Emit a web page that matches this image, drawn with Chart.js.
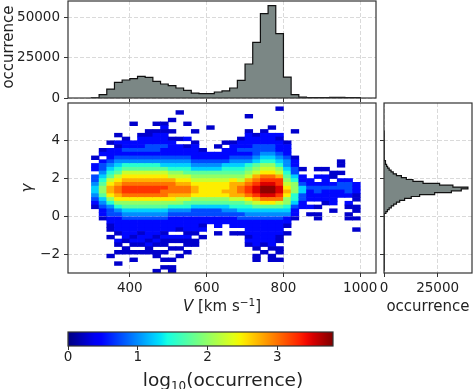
<!DOCTYPE html>
<html>
<head>
<meta charset="utf-8">
<script src="https://cdn.jsdelivr.net/npm/chart.js@4.4.0/dist/chart.umd.min.js"></script>
<style>
  body { margin: 0; background: #fff; }
  #fig { position: relative; width: 474px; height: 389px; overflow: hidden; font-family: "DejaVu Sans", sans-serif; color: #222; }
  #fig canvas { position: absolute; left: 0; top: 0; }
  .lbl { position: absolute; transform: translate(-50%, -50%); white-space: nowrap; line-height: 1; font-size: 15px; }
  .rot { transform: translate(-50%, -50%) rotate(-90deg); }
  .sup { font-size: 10.5px; position: relative; top: -0.5em; }
  .sub { font-size: 12px; position: relative; top: 0.35em; }
</style>
</head>
<body>
<div id="fig">
  <canvas id="topHist" width="474" height="389"></canvas>
  <canvas id="heat" width="474" height="389"></canvas>
  <canvas id="sideHist" width="474" height="389"></canvas>
  <canvas id="cbar" width="474" height="389"></canvas>
  <div class="lbl rot" style="left:8px;top:47px">occurrence</div>
  <div class="lbl rot" style="left:27px;top:188px;font-style:italic">γ</div>
  <div class="lbl" style="left:222px;top:306px"><i>V</i> [km s<span class="sup">−1</span>]</div>
  <div class="lbl" style="left:428px;top:306px">occurrence</div>
  <div class="lbl" style="left:223px;top:380px;font-size:18.5px">log<span class="sub">10</span>(occurrence)</div>
</div>
<script>
// V bins (km/s), shared by the 2D histogram and the top histogram
const vEdges = [300, 320, 340, 360, 380, 400, 420, 440, 460, 480, 500, 520, 540, 560, 580, 600, 620, 640,
  660, 680, 700, 720, 740, 760, 780, 800, 820, 840, 860, 880, 900, 920, 940, 960, 980, 1000];
const vTopCounts = [150, 2100, 5600, 9800, 11250, 12100, 13500, 12900, 10400, 8750, 7700, 6250, 4800, 3100,
  2700, 2700, 3750, 4400, 6250, 11000, 21250, 34800, 52700, 57700, 40200, 13100, 2100, 600, 300, 250, 300,
  350, 400, 300, 200];

// gamma bin edges of the 2D histogram, top to bottom
const gammaEdges = [5.8, 5.6, 5.4, 5.2, 5.0, 4.8, 4.6, 4.4, 4.2, 4.0, 3.8, 3.6, 3.4, 3.2, 3.0, 2.8, 2.6, 2.4,
  2.2, 2.0, 1.8, 1.6, 1.4, 1.2, 1.0, 0.8, 0.6, 0.4, 0.2, 0.0, -0.2, -0.4, -0.6, -0.8, -1.0, -1.2, -1.4, -1.6,
  -1.8, -2.0, -2.2, -2.4, -2.6, -2.8, -3.0];

// one string per V bin, one char per gamma bin (top to bottom):
// '.' = empty, hex digit d = log10(occurrence) of d * logStep
const logStep = 0.25;
const occLevels = [
  "....|....|....|.1.2|2.33|4554|321.|....|....|....|....",
  "....|....|...1|2.23|3456|7887|5432|21..|....|....|....",
  "....|....|.1.2|2234|5679|abba|8643|3221|1.1.|...1|....",
  "....|...1|.212|2345|679a|bccb|a864|3222|21.2|1.1.|.1..",
  "....|....|1223|2346|79ab|cddc|a875|4322|2221|.11.|....",
  "....|1...|.223|2346|79ab|cddc|a875|4322|2212|1.1.|1...",
  "....|...1|2223|2346|79ab|cddc|a875|4322|2122|1.1.|....",
  "....|..11|2233|2346|79ab|cddc|a875|4322|2221|211.|....",
  "....|1.12|2233|2346|79ab|cddc|a875|4322|2212|1.11|...1",
  "....|1212|2232|2345|79ab|cdcc|a875|4322|2121|1.1.|1.1.",
  "...1|..1.|1222|2345|689b|cccb|a864|3222|2.21|.1..|1.11",
  ".1..|....|1.22|2345|689a|bccb|9864|3222|1.21|.1.1|....",
  "....|1...|2.12|2345|679a|bccb|9764|3222|2121|1.1.|....",
  "....|..1.|.122|2234|5789|abba|8753|3222|21.1|1...|....",
  "....|....|...1|2234|5789|aaaa|8753|3221|2.1.|....|....",
  "....|.1..|....|2234|5789|aaaa|8753|322.|....|....|....",
  "....|....|..1.|2234|5789|aaaa|8753|3222|.1..|....|....",
  "....|....|.1.2|2235|6789|aaba|8754|322.|....|....|....",
  "....|....|.122|2345|678a|bbbb|9764|3222|.1..|....|....",
  "....|....|1223|2345|6789|bccb|9765|3322|.1..|....|....",
  "..1.|..12|2223|2346|789b|cddc|a865|4322|2212|1...|....",
  "....|...1|2233|3457|89bc|deed|b975|4322|2222|21.1|1...",
  "....|..12|2233|4568|9acd|effe|ca75|4322|2222|1.1.|....",
  "....|.1.2|2233|4568|9acd|effe|ca75|4322|2222|21.1|1...",
  "1...|...2|1222|3456|89bd|deed|c975|4322|2211|.11.|1...",
  "....|....|.122|2344|5678|9aba|8865|4221|.1..|....|....",
  "....|..1.|....|.122|3356|8886|6532|21..|....|....|....",
  "....|....|....|....|1.22|3553|322.|....|....|....|....",
  "....|....|....|....|...2|2322|2.2.|1...|....|....|....",
  "....|....|....|....|1.2.|2332|2.1.|11..|....|....|....",
  "....|....|....|....|1.22|2322|21..|....|....|....|....",
  "....|....|....|....|.11.|2322|22.1|....|....|....|....",
  "....|....|....|..11|.1.2|3322|....|....|....|....|....",
  "....|....|....|....|...2|3332|.21.|11..|....|....|....",
  "....|....|....|....|....|2221|1.11|.1..|1...|....|...."
];

// side histogram of gamma (bin centres, 0.1 wide)
const sideGamma = [-2.8, -2.7, -2.6, -2.5, -2.4, -2.3, -2.2, -2.1, -2.0, -1.9, -1.8, -1.7, -1.6, -1.5, -1.4,
  -1.3, -1.2, -1.1, -1.0, -0.9, -0.8, -0.7, -0.6, -0.5, -0.4, -0.3, -0.2, -0.1, 0.0, 0.1, 0.2, 0.3, 0.4, 0.5,
  0.6, 0.7, 0.8, 0.9, 1.0, 1.1, 1.2, 1.3, 1.4, 1.5, 1.6, 1.7, 1.8, 1.9, 2.0, 2.1, 2.2, 2.3, 2.4, 2.5, 2.6,
  2.7, 2.8, 2.9, 3.0, 3.1, 3.2, 3.3, 3.4, 3.5, 3.6, 3.7, 3.8, 3.9, 4.0, 4.1, 4.2, 4.3, 4.4, 4.5];
const sideCounts = [2, 3, 4, 5, 6, 8, 10, 12, 15, 18, 20, 25, 30, 35, 40, 45, 50, 55, 60, 70, 80, 90, 100,
  120, 140, 160, 190, 230, 300, 450, 900, 1600, 2400, 3400, 4500, 5800, 7300, 9600, 12700, 16600, 23600,
  31400, 36000, 39100, 32100, 25900, 18200, 13500, 10400, 8100, 5800, 4300, 3300, 2400, 1700, 1200, 850,
  600, 420, 300, 220, 160, 120, 90, 70, 50, 40, 30, 20, 15, 10, 8, 5, 4];
const sideHalfBin = 0.05;

const vTicks = [400, 600, 800, 1000], vTickLabels = ['400', '600', '800', '1000'];
const gammaTicks = [-2, 0, 2, 4], gammaTickLabels = ['\u22122', '0', '2', '4'];
const topTicks = [0, 25000, 50000], topTickLabels = ['0', '25000', '50000'];
const sideTicks = [0, 25000], sideTickLabels = ['0', '25000'];
const cbTicks = [0, 1, 2, 3], cbTickLabels = ['0', '1', '2', '3'];
const cbRange = [0, 3.8];

const W = 474, H = 389;
const gridColor = '#d0d0d0';
const histFill = '#7b8785';

function jet(t) {
  t = Math.min(1, Math.max(0, t));
  const seg = pts => {
    for (let i = 1; i < pts.length; i++) {
      if (t <= pts[i][0]) {
        const [x0, y0] = pts[i - 1], [x1, y1] = pts[i];
        return y0 + (y1 - y0) * (t - x0) / (x1 - x0);
      }
    }
    return pts[pts.length - 1][1];
  };
  const r = seg([[0, 0], [0.35, 0], [0.66, 1], [0.89, 1], [1, 0.5]]);
  const g = seg([[0, 0], [0.125, 0], [0.375, 1], [0.64, 1], [0.91, 0], [1, 0]]);
  const b = seg([[0, 0.5], [0.11, 1], [0.34, 1], [0.65, 0], [1, 0]]);
  return `rgb(${Math.round(r * 255)},${Math.round(g * 255)},${Math.round(b * 255)})`;
}

// 2D histogram cells
const cells = [], cellColors = [];
occLevels.forEach((col, j) => {
  const levels = col.replace(/\|/g, '');
  const vMid = (vEdges[j] + vEdges[j + 1]) / 2;
  for (let r = 0; r < levels.length; r++) {
    if (levels[r] === '.') continue;
    const logOcc = parseInt(levels[r], 16) * logStep;
    cells.push({ x: vMid, y: [gammaEdges[r + 1], gammaEdges[r]] });
    cellColors.push(jet((logOcc - cbRange[0]) / (cbRange[1] - cbRange[0])));
  }
});

// step outlines for the marginal histograms
const topLine = [{ x: vEdges[0], y: 0 }];
vTopCounts.forEach((c, i) => topLine.push({ x: vEdges[i], y: c }, { x: vEdges[i + 1], y: c }));
topLine.push({ x: vEdges[vEdges.length - 1], y: 0 });

const sideLine = [{ x: 0, y: sideGamma[0] - sideHalfBin }];
sideGamma.forEach((g, i) => sideLine.push({ x: sideCounts[i], y: g - sideHalfBin }, { x: sideCounts[i], y: g + sideHalfBin }));
sideLine.push({ x: 0, y: sideGamma[sideGamma.length - 1] + sideHalfBin });

Chart.defaults.font.family = "'DejaVu Sans', sans-serif";
Chart.defaults.font.size = 13.5;
Chart.defaults.color = '#222';
Chart.defaults.animation = false;
Chart.defaults.events = [];
Chart.defaults.plugins.legend.display = false;
Chart.defaults.plugins.tooltip.enabled = false;

const frame = {
  id: 'frame',
  afterDraw(chart) {
    const { ctx, chartArea: a } = chart;
    ctx.save();
    ctx.strokeStyle = '#333';
    ctx.lineWidth = 1.2;
    ctx.strokeRect(a.left, a.top, a.right - a.left, a.bottom - a.top);
    ctx.restore();
  }
};

function layoutFor(area, yW, xH) {
  return { autoPadding: false, padding: { left: area.left - yW, top: area.top, right: W - area.right, bottom: H - area.bottom - xH } };
}

function axis(o) {
  return {
    type: 'linear', min: o.min, max: o.max, bounds: 'data', offset: false, display: true,
    afterBuildTicks: s => { s.ticks = o.ticks.map(v => ({ value: v })); },
    afterFit: s => {
      if (o.isX) s.height = o.size; else s.width = o.size;
      s.paddingLeft = s.paddingRight = s.paddingTop = s.paddingBottom = 0;
    },
    ticks: {
      display: !!o.labels, padding: o.pad === undefined ? 4 : o.pad, maxRotation: 0, autoSkip: false,
      callback: (v, i) => (o.labels ? o.labels[i] : '')
    },
    grid: {
      offset: false, drawOnChartArea: o.grid !== false, color: gridColor, lineWidth: 0.8,
      drawTicks: true, tickLength: 4, tickColor: '#333', tickWidth: 1, tickBorderDash: []
    },
    border: { display: false, dash: [4, 2] }
  };
}

const vMin = 239, vMax = 1041, gMin = -3, gMax = 6;

// top histogram
const topArea = { left: 68, top: 1, right: 376, bottom: 98 };
new Chart(document.getElementById('topHist'), {
  type: 'scatter',
  data: { datasets: [{ data: topLine, showLine: true, pointRadius: 0, borderColor: '#111', borderWidth: 1.2, backgroundColor: histFill, fill: 'origin' }] },
  options: {
    responsive: false,
    layout: layoutFor(topArea, 60, 10),
    scales: {
      x: axis({ min: vMin, max: vMax, ticks: vTicks, isX: true, size: 10 }),
      y: axis({ min: 0, max: 60600, ticks: topTicks, labels: topTickLabels, size: 60 })
    }
  },
  plugins: [frame]
});

// 2D histogram
const heatArea = { left: 68, top: 103, right: 376, bottom: 273 };
new Chart(document.getElementById('heat'), {
  type: 'bar',
  data: { datasets: [{ data: cells, backgroundColor: cellColors, borderWidth: 0, barPercentage: 1, categoryPercentage: 1, grouped: false }] },
  options: {
    responsive: false,
    layout: layoutFor(heatArea, 60, 30),
    scales: {
      x: axis({ min: vMin, max: vMax, ticks: vTicks, labels: vTickLabels, isX: true, size: 30, pad: 3 }),
      y: axis({ min: gMin, max: gMax, ticks: gammaTicks, labels: gammaTickLabels, size: 60 })
    }
  },
  plugins: [frame]
});

// side histogram
const sideArea = { left: 384, top: 103, right: 472, bottom: 273 };
new Chart(document.getElementById('sideHist'), {
  type: 'scatter',
  data: { datasets: [{ data: sideLine, showLine: true, pointRadius: 0, borderColor: '#111', borderWidth: 1.2, backgroundColor: histFill, fill: 'shape' }] },
  options: {
    responsive: false,
    layout: layoutFor(sideArea, 4, 30),
    scales: {
      x: axis({ min: 0, max: 41000, ticks: sideTicks, labels: sideTickLabels, isX: true, size: 30, pad: 3 }),
      y: axis({ min: gMin, max: gMax, ticks: gammaTicks, size: 4 })
    }
  },
  plugins: [frame]
});

// colour bar
const cbArea = { left: 68, top: 332, right: 333, bottom: 346 };
new Chart(document.getElementById('cbar'), {
  type: 'bar',
  data: {
    labels: ['log10(occurrence)'],
    datasets: [{
      data: [cbRange],
      borderWidth: 0, barPercentage: 1, categoryPercentage: 1,
      backgroundColor: ctx => {
        const chart = ctx.chart;
        if (!chart.chartArea) return '#888';
        const xs = chart.scales.x;
        const grad = chart.ctx.createLinearGradient(xs.getPixelForValue(cbRange[0]), 0, xs.getPixelForValue(cbRange[1]), 0);
        for (let k = 0; k <= 40; k++) grad.addColorStop(k / 40, jet(k / 40));
        return grad;
      }
    }]
  },
  options: {
    responsive: false,
    indexAxis: 'y',
    layout: layoutFor(cbArea, 0, 30),
    scales: {
      x: axis({ min: cbRange[0], max: cbRange[1], ticks: cbTicks, labels: cbTickLabels, isX: true, size: 30, pad: -1, grid: false }),
      y: { type: 'category', display: false, offset: true, afterFit: s => { s.width = 0; } }
    }
  },
  plugins: [frame]
});
</script>
</body>
</html>
